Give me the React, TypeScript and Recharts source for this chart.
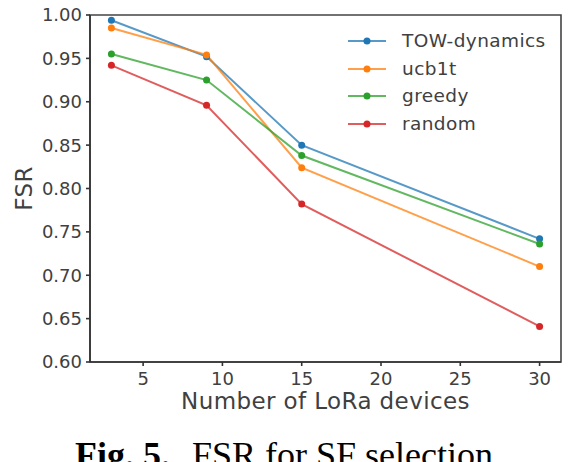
import React from 'react';
import { LineChart, Line, XAxis, YAxis, Legend, ReferenceArea } from 'recharts';

const devices = [3, 9, 15, 30];
const towDynamics = [0.994, 0.952, 0.85, 0.742];
const ucb1t = [0.985, 0.954, 0.824, 0.71];
const greedy = [0.955, 0.925, 0.838, 0.736];
const randomSel = [0.942, 0.896, 0.782, 0.641];

const xTicks = [5, 10, 15, 20, 25, 30];
const yTicks = [0.6, 0.65, 0.7, 0.75, 0.8, 0.85, 0.9, 0.95, 1.0];

const seriesDefs = [
  { key: 'tow', name: 'TOW-dynamics', color: '#1f77b4', values: towDynamics },
  { key: 'ucb', name: 'ucb1t', color: '#ff7f0e', values: ucb1t },
  { key: 'greedy', name: 'greedy', color: '#2ca02c', values: greedy },
  { key: 'random', name: 'random', color: '#d62728', values: randomSel },
];

const seriesOrder = seriesDefs.map((s) => s.name);

const data = devices.map((x, i) => {
  const row: Record<string, number> = { x };
  seriesDefs.forEach((s) => {
    row[s.key] = s.values[i];
  });
  return row;
});

const FONT = '"DejaVu Sans", sans-serif';
const TEXT = '#404040';
const AXIS = '#333';

const LegendContent = (props: any) => {
  const payload = [...(props.payload || [])].sort(
    (a: any, b: any) => seriesOrder.indexOf(a.value) - seriesOrder.indexOf(b.value)
  );
  return (
    <div style={{ fontFamily: FONT }}>
      {payload.map((p: any) => (
        <div key={p.value} style={{ display: 'flex', alignItems: 'center', height: 27.6 }}>
          <svg width={38} height={10} style={{ display: 'block' }}>
            <line x1={0} y1={5} x2={38} y2={5} stroke={p.color} strokeWidth={2} strokeOpacity={0.75} />
            <circle cx={19} cy={5} r={3.5} fill={p.color} />
          </svg>
          <span style={{ marginLeft: 16, fontSize: 18.5, color: TEXT, letterSpacing: 0.4, lineHeight: '20px' }}>
            {p.value}
          </span>
        </div>
      ))}
    </div>
  );
};

const YLabel = (props: any) => {
  const vb = props.viewBox || { x: 0, y: 0, width: 0, height: 0 };
  const cx = 24;
  const cy = vb.y + vb.height / 2;
  return (
    <text
      x={cx}
      y={cy}
      transform={`rotate(-90, ${cx}, ${cy})`}
      textAnchor="middle"
      dominantBaseline="central"
      fontFamily={FONT}
      fontSize={23}
      fill={TEXT}
      letterSpacing={0.4}
    >
      FSR
    </text>
  );
};

const XLabel = (props: any) => {
  const vb = props.viewBox || { x: 0, y: 0, width: 0, height: 0 };
  return (
    <text
      x={vb.x + vb.width / 2}
      y={409}
      textAnchor="middle"
      fontFamily={FONT}
      fontSize={23}
      fill={TEXT}
      letterSpacing={0.4}
    >
      Number of LoRa devices
    </text>
  );
};

export default function App() {
  return (
    <div style={{ position: 'absolute', left: 0, top: 0, width: 575, height: 462, overflow: 'hidden', background: '#fff' }}>
      <LineChart width={575} height={462} data={data} margin={{ top: 15, right: 14, left: 0, bottom: 0 }}>
        <ReferenceArea
          x1={1.65}
          x2={31.35}
          y1={0.6}
          y2={1.0}
          fill="none"
          stroke="#444"
          strokeWidth={1.6}
          ifOverflow="extendDomain"
        />
        <XAxis
          type="number"
          dataKey="x"
          domain={[1.65, 31.35]}
          ticks={xTicks}
          allowDataOverflow
          height={100}
          tickSize={4}
          tickMargin={6}
          stroke={AXIS}
          strokeWidth={1.6}
          tick={{ fontFamily: FONT, fontSize: 18, fill: TEXT }}
          label={<XLabel />}
        />
        <YAxis
          type="number"
          domain={[0.6, 1.0]}
          ticks={yTicks}
          allowDataOverflow
          width={90}
          tickSize={4}
          tickMargin={4}
          stroke={AXIS}
          strokeWidth={1.6}
          tickFormatter={(v: number) => v.toFixed(2)}
          tick={{ fontFamily: FONT, fontSize: 18, fill: TEXT }}
          label={<YLabel />}
        />
        {seriesDefs.map((s) => (
          <Line
            key={s.key}
            type="linear"
            dataKey={s.key}
            name={s.name}
            stroke={s.color}
            strokeWidth={2}
            strokeOpacity={0.75}
            dot={{ r: 3.5, fill: s.color, stroke: 'none', fillOpacity: 1, strokeOpacity: 0 }}
            activeDot={false}
            isAnimationActive={false}
          />
        ))}
        <Legend
          layout="vertical"
          align="center"
          verticalAlign="middle"
          content={<LegendContent />}
          wrapperStyle={{ position: 'absolute', top: 27.2, left: 348, width: 220, height: 'auto' }}
        />
      </LineChart>
      <div
        style={{
          position: 'absolute',
          left: 75,
          top: 436.7,
          fontFamily: '"Liberation Serif", "Times New Roman", serif',
          fontSize: 36,
          lineHeight: '36px',
          whiteSpace: 'nowrap',
          color: '#000',
        }}
      >
        <span style={{ fontWeight: 'bold' }}>Fig. 5.</span>
        <span style={{ marginLeft: 22 }}>FSR for SF selection</span>
      </div>
    </div>
  );
}
